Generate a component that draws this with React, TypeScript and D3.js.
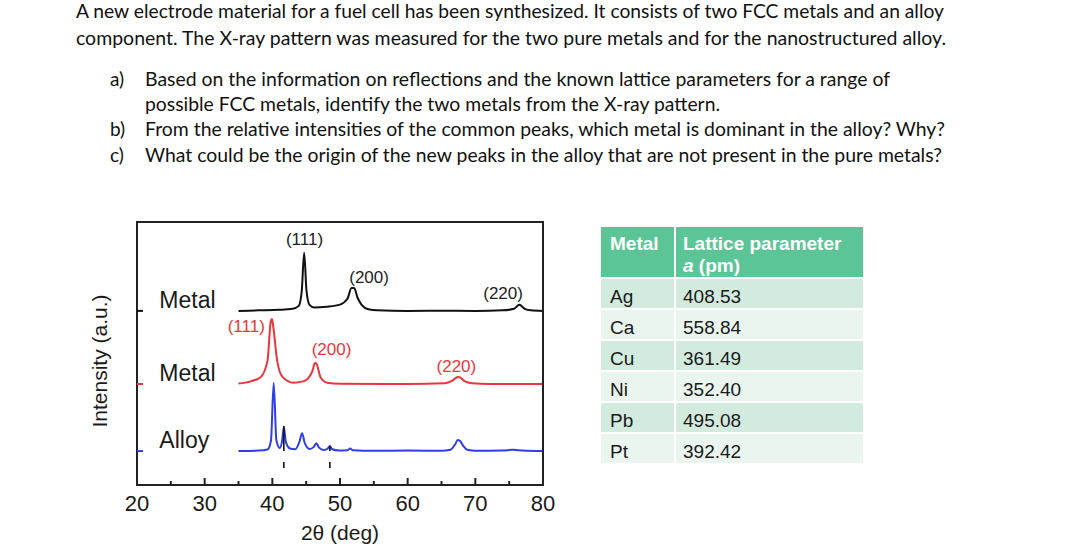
import React from "react";
import * as d3 from "d3";

const W = 1065;
const H = 545;

// question text
const introLines = [
  "A new electrode material for a fuel cell has been synthesized. It consists of two FCC metals and an alloy",
  "component. The X-ray pattern was measured for the two pure metals and for the nanostructured alloy.",
];
const questionMarks = ["a)", "", "b)", "c)"];
const questionLines = [
  "Based on the information on reflections and the known lattice parameters for a range of",
  "possible FCC metals, identify the two metals from the X-ray pattern.",
  "From the relative intensities of the common peaks, which metal is dominant in the alloy? Why?",
  "What could be the origin of the new peaks in the alloy that are not present in the pure metals?",
];

// XRD patterns, 2θ in degrees and intensity in a.u. (before stacking)
const metal1Theta = [35, 38, 41, 43, 43.9, 44.35, 44.7, 45.05, 45.5, 46.2, 48, 50, 51.1, 51.7, 52.1, 52.6, 53.2, 54.2, 55.5, 60, 65, 70, 74, 75.7, 76.5, 77.3, 78.2, 80];
const metal1Int = [0, 0.2, 0.4, 0.8, 1.9, 7.6, 22.1, 7.6, 2.3, 1.3, 1.6, 2.4, 4.6, 8.7, 8.7, 5.0, 2.3, 0.6, 0.2, 0, 0.1, 0, 0.2, 0.8, 2.3, 0.8, 0.2, 0];

const metal2Theta = [35, 36.8, 38.3, 39.3, 39.75, 39.95, 40.15, 40.7, 41.5, 43.1, 44.4, 45.2, 45.9, 46.3, 46.55, 47.1, 48.1, 50, 60, 65.5, 66.6, 67.4, 67.7, 68.4, 69.5, 72, 80];
const metal2Int = [0.2, 1.0, 2.7, 9.1, 23.5, 24.7, 21.5, 9.1, 2.7, 0.5, 0.9, 1.9, 4.8, 8.0, 7.6, 2.7, 0.5, 0.1, 0, 0.3, 1.3, 2.7, 2.6, 1.1, 0.3, 0, 0];

const alloyTheta = [35, 38, 39.3, 39.8, 40.2, 40.6, 41.1, 41.45, 41.7, 42.0, 42.6, 43.4, 44.0, 44.4, 44.8, 45.5, 46.1, 46.5, 46.9, 47.6, 48.2, 48.5, 48.8, 49.8, 51.1, 51.5, 51.9, 55, 60, 65, 66.3, 67.0, 67.4, 67.7, 68.2, 68.8, 70, 74, 75.6, 77, 80];
const alloyInt = [0, 0.2, 0.6, 4, 25.9, 4, 1.2, 4, 9.1, 3.5, 1.0, 0.7, 3.5, 6.8, 3.0, 0.8, 1.5, 3.0, 1.3, 0.4, 1.0, 1.9, 0.8, 0.2, 0.3, 1.0, 0.3, 0.1, 0.2, 0.1, 0.5, 2.5, 4.2, 4.0, 2.0, 0.5, 0.1, 0.2, 0.5, 0.2, 0];

const traceNames = ["Metal", "Metal", "Alloy"];
const traceColors = ["#111111", "#e8363e", "#2f3de4"];
const traceOffsets = [66.2, 38.4, 12.9];

// hkl labels: text, 2θ, level (a.u.), anchor
const metal1Labels = [
  { text: "(111)", theta: 44.75, level: 91.3, anchor: "middle" },
  { text: "(200)", theta: 54.3, level: 76.7, anchor: "middle" },
  { text: "(220)", theta: 74.1, level: 70.9, anchor: "middle" },
];
const metal2Labels = [
  { text: "(111)", theta: 38.9, level: 58.3, anchor: "end" },
  { text: "(200)", theta: 48.75, level: 49.4, anchor: "middle" },
  { text: "(220)", theta: 67.2, level: 43.1, anchor: "middle" },
];

// extra alloy reflections marked in black
const alloyMarkTheta = [41.7, 48.5];
const alloyMarkHeight = [9.5, 1.9];

const xMajor = [20, 30, 40, 50, 60, 70, 80];
const xMinor = [25, 35, 45, 55, 65, 75];

// lattice parameter table
const metals = ["Ag", "Ca", "Cu", "Ni", "Pb", "Pt"];
const latticeParams = ["408.53", "558.84", "361.49", "352.40", "495.08", "392.42"];

const x = d3.scaleLinear().domain([20, 80]).range([137, 543]);
const y = d3.scaleLinear().domain([0, 100]).range([485, 222]);

const arial = "'Liberation Sans', Arial, Helvetica, sans-serif";

function Trace({ theta, values, offset, color }: { theta: number[]; values: number[]; offset: number; color: string }) {
  const pts = theta.map((t, i) => [t, values[i]] as [number, number]);
  const line = d3
    .line<[number, number]>()
    .x(d => x(d[0]))
    .y(d => y(d[1] + offset))
    .curve(d3.curveMonotoneX);
  return <path d={line(pts) || ""} fill="none" stroke={color} strokeWidth={2} strokeLinejoin="round" />;
}

function Table() {
  const x0 = 601, x1 = 863, xs = 675;
  const headTop = 227, headBottom = 278, rowH = 31;
  return (
    <g fontFamily={arial}>
      <rect x={x0} y={headTop} width={xs - x0 - 1} height={headBottom - headTop - 1} fill="#5cc597" />
      <rect x={xs + 1} y={headTop} width={x1 - xs - 1} height={headBottom - headTop - 1} fill="#5cc597" />
      <text x={610} y={250} fill="#fff" fontWeight="bold" fontSize={19}>Metal</text>
      <text x={683} y={250} fill="#fff" fontWeight="bold" fontSize={19}>Lattice parameter</text>
      <text x={683} y={272} fill="#fff" fontWeight="bold" fontSize={19}>
        <tspan fontStyle="italic">a</tspan> (pm)
      </text>
      {metals.map((m, i) => {
        const top = headBottom + i * rowH;
        const fill = i % 2 === 0 ? "#d3ebde" : "#e9f5ee";
        return (
          <g key={m}>
            <rect x={x0} y={top + 1} width={xs - x0 - 1} height={rowH - 2} fill={fill} />
            <rect x={xs + 1} y={top + 1} width={x1 - xs - 1} height={rowH - 2} fill={fill} />
            <text x={610} y={top + 25} fontSize={19} fill="#1a1a1a">{m}</text>
            <text x={683} y={top + 25} fontSize={19} fill="#1a1a1a">{latticeParams[i]}</text>
          </g>
        );
      })}
    </g>
  );
}

export default function App() {
  const series = [
    { theta: metal1Theta, values: metal1Int },
    { theta: metal2Theta, values: metal2Int },
    { theta: alloyTheta, values: alloyInt },
  ];
  const bx = x(20), by = y(0);
  return (
    <svg width={W} height={H} style={{ position: "absolute", left: 0, top: 0, background: "#fff" }}>
      <g fontFamily="Lato, 'Open Sans', sans-serif" fontSize={19} fill="#111">
        <text x={76} y={18} textLength={868} lengthAdjust="spacingAndGlyphs">{introLines[0]}</text>
        <text x={76} y={45} textLength={870} lengthAdjust="spacingAndGlyphs">{introLines[1]}</text>
        {questionLines.map((q, i) => {
          const base = [86, 111, 136, 162][i];
          const ends = [890, 720, 945, 942];
          return (
            <g key={i}>
              {questionMarks[i] && <text x={110} y={base}>{questionMarks[i]}</text>}
              <text x={145} y={base} textLength={ends[i] - 145} lengthAdjust="spacingAndGlyphs">{q}</text>
            </g>
          );
        })}
      </g>

      {/* stacked XRD patterns */}
      {series.map((s, i) => (
        <Trace key={i} theta={s.theta} values={s.values} offset={traceOffsets[i]} color={traceColors[i]} />
      ))}

      {alloyMarkTheta.map((t, i) => (
        <g key={t} stroke="#111" strokeWidth={1.6}>
          <line x1={x(t)} x2={x(t)} y1={y(traceOffsets[2])} y2={y(traceOffsets[2] + alloyMarkHeight[i])} />
          <line x1={x(t)} x2={x(t)} y1={y(traceOffsets[2]) + 11} y2={y(traceOffsets[2]) + 17} />
        </g>
      ))}

      <g fontFamily={arial} fontSize={17}>
        {metal1Labels.map(l => (
          <text key={"b" + l.text} x={x(l.theta)} y={y(l.level)} textAnchor={l.anchor} fill="#222">{l.text}</text>
        ))}
        {metal2Labels.map(l => (
          <text key={"r" + l.text} x={x(l.theta)} y={y(l.level)} textAnchor={l.anchor} fill={traceColors[1]}>{l.text}</text>
        ))}
      </g>

      {/* frame and ticks */}
      <rect x={bx} y={y(100)} width={x(80) - bx} height={by - y(100)} fill="none" stroke="#222" strokeWidth={2} />
      {xMajor.map(t => (
        <line key={t} x1={x(t)} x2={x(t)} y1={by} y2={by - 7} stroke="#222" strokeWidth={2} />
      ))}
      {xMinor.map(t => (
        <line key={t} x1={x(t)} x2={x(t)} y1={by} y2={by - 4} stroke="#222" strokeWidth={2} />
      ))}
      {traceOffsets.map((o, i) => (
        <line key={i} x1={bx} x2={bx + 6} y1={y(o)} y2={y(o)} stroke={traceColors[i]} strokeWidth={2} />
      ))}

      <g fontFamily={arial} fill="#1a1a1a">
        {xMajor.map(t => (
          <text key={t} x={x(t)} y={511} textAnchor="middle" fontSize={22}>{t}</text>
        ))}
        <text x={340} y={540} textAnchor="middle" fontSize={21}>2θ (deg)</text>
        <text transform="translate(107,361) rotate(-90)" textAnchor="middle" fontSize={21}>Intensity (a.u.)</text>
        {traceNames.map((n, i) => (
          <text key={i} x={x(23.3)} y={y(traceOffsets[i]) - 3} fontSize={23}>{n}</text>
        ))}
      </g>

      <Table />
    </svg>
  );
}
